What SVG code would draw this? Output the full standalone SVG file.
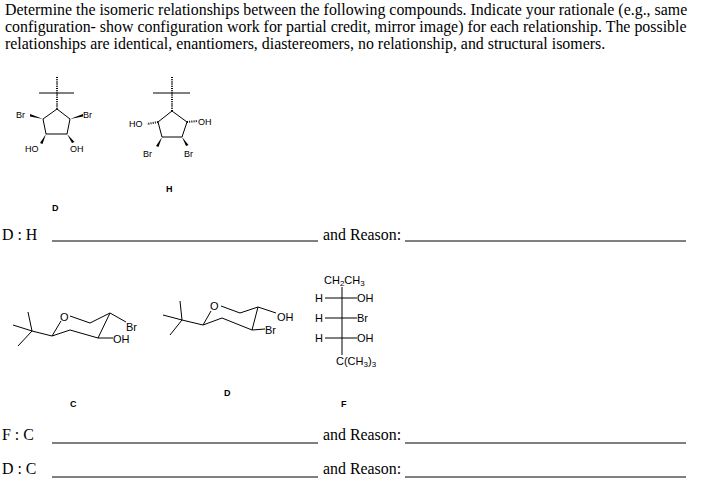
<svg xmlns="http://www.w3.org/2000/svg" width="716" height="503" viewBox="0 0 716 503">
<style>
.t{font-family:"Liberation Serif",serif;font-size:15.9px;fill:#000}
.a{font-family:"Liberation Sans",Arial,sans-serif;font-size:11px;fill:#000}
.s{font-family:"Liberation Sans",Arial,sans-serif;font-size:9px;fill:#000}
.b{font-family:"Liberation Sans",Arial,sans-serif;font-size:9px;font-weight:bold;fill:#000}
.l{stroke:#000;stroke-width:1;fill:none}
.h{stroke:#000;stroke-width:2;stroke-dasharray:1 1.2;fill:none}
</style>
<rect width="716" height="503" fill="#fff"/>
<text class="t" x="5" y="15">Determine the isomeric relationships between the following compounds. Indicate your rationale (e.g., same</text>
<text class="t" x="5" y="32">configuration- show configuration work for partial credit, mirror image) for each relationship. The possible</text>
<text class="t" x="5" y="49">relationships are identical, enantiomers, diastereomers, no relationship, and structural isomers.</text>

<g id="molD1">
<line class="h" x1="57" y1="77" x2="57" y2="109"/>
<line class="l" x1="39" y1="93" x2="74" y2="93"/>
<polygon class="l" points="57,109 70,119 67,134 46,134 43,119"/>
<polygon points="43,119 30,114 30,116.5"/>
<polygon points="70,119 83,114 83,116.5"/>
<polygon points="46,134 40,143 42.5,144"/>
<polygon points="67,134 72,143 74.5,142"/>
<text class="s" x="16" y="118">Br</text>
<text class="s" x="83" y="118">Br</text>
<text class="s" x="25" y="152">HO</text>
<text class="s" x="70" y="152">OH</text>
<text class="b" x="52" y="211">D</text>
</g>
<g id="molH">
<line class="h" x1="172" y1="77" x2="172" y2="111"/>
<line class="l" x1="153" y1="93" x2="190" y2="93"/>
<polygon class="l" points="172,111 187,122 182,137 162,137 158,122"/>
<line class="h" x1="158" y1="122" x2="147" y2="124"/>
<line class="h" x1="187" y1="122" x2="198" y2="121"/>
<polygon points="162,137 156,146 158.5,147"/>
<polygon points="182,137 186,146 188.5,145"/>
<text class="s" x="129" y="127">HO</text>
<text class="s" x="198" y="125">OH</text>
<text class="s" x="143" y="157">Br</text>
<text class="s" x="184" y="157">Br</text>
<text class="b" x="166" y="192">H</text>
</g>

<g id="lines1">
<text class="t" x="2" y="240">D : H</text>
<line class="l" x1="52" y1="241" x2="318" y2="241"/>
<text class="t" x="323" y="240">and Reason:</text>
<line class="l" x1="405" y1="241" x2="686" y2="241"/>
</g>

<g id="molC">
<line class="l" x1="13" y1="325" x2="32" y2="331"/>
<line class="l" x1="28" y1="312" x2="32" y2="331"/>
<line class="l" x1="18" y1="346" x2="32" y2="331"/>
<line class="l" x1="32" y1="331" x2="52" y2="336"/>
<path class="l" d="M52,336 L61,321 M70,316 L90,323 L110,313 L98,338 L70,330 L52,336"/>
<text class="a" x="60" y="321">O</text>
<line class="l" x1="110" y1="313" x2="126" y2="322"/>
<line class="l" x1="98" y1="338" x2="113" y2="338"/>
<text class="a" x="126" y="331">Br</text>
<text class="a" x="113" y="343">OH</text>
<text class="b" x="70" y="407">C</text>
</g>
<g id="molD2">
<line class="l" x1="163" y1="315" x2="182" y2="320"/>
<line class="l" x1="180" y1="301" x2="182" y2="320"/>
<line class="l" x1="170" y1="335" x2="182" y2="320"/>
<line class="l" x1="182" y1="320" x2="203" y2="325"/>
<path class="l" d="M203,325 L211,311 M221,306 L240,313 L258,307 L252,330 L222,318 L203,325"/>
<text class="a" x="210" y="310">O</text>
<line class="l" x1="258" y1="307" x2="276" y2="313"/>
<line class="l" x1="252" y1="330" x2="265" y2="329"/>
<text class="a" x="277" y="321">OH</text>
<text class="a" x="265" y="334">Br</text>
<text class="b" x="224" y="396">D</text>
</g>
<g id="molF">
<text class="a" x="324" y="284">CH<tspan font-size="8" dy="2">2</tspan><tspan dy="-2">CH</tspan><tspan font-size="8" dy="2">3</tspan></text>
<line class="l" x1="342" y1="287" x2="342" y2="355"/>
<line class="l" x1="325" y1="298" x2="357" y2="298"/>
<line class="l" x1="325" y1="318" x2="357" y2="318"/>
<line class="l" x1="325" y1="338" x2="357" y2="338"/>
<text class="a" x="315" y="302">H</text>
<text class="a" x="315" y="322">H</text>
<text class="a" x="315" y="342">H</text>
<text class="a" x="357" y="302">OH</text>
<text class="a" x="357" y="322">Br</text>
<text class="a" x="357" y="342">OH</text>
<text class="a" x="336" y="365">C(CH<tspan font-size="8" dy="2">3</tspan><tspan dy="-2">)</tspan><tspan font-size="8" dy="2">3</tspan></text>
<text class="b" x="341" y="407">F</text>
</g>

<g id="lines2">
<text class="t" x="2" y="440">F : C</text>
<line class="l" x1="52" y1="443" x2="318" y2="443"/>
<text class="t" x="323" y="440">and Reason:</text>
<line class="l" x1="405" y1="443" x2="686" y2="443"/>
<text class="t" x="2" y="474">D : C</text>
<line class="l" x1="52" y1="477" x2="318" y2="477"/>
<text class="t" x="323" y="474">and Reason:</text>
<line class="l" x1="405" y1="477" x2="686" y2="477"/>
</g>
</svg>
